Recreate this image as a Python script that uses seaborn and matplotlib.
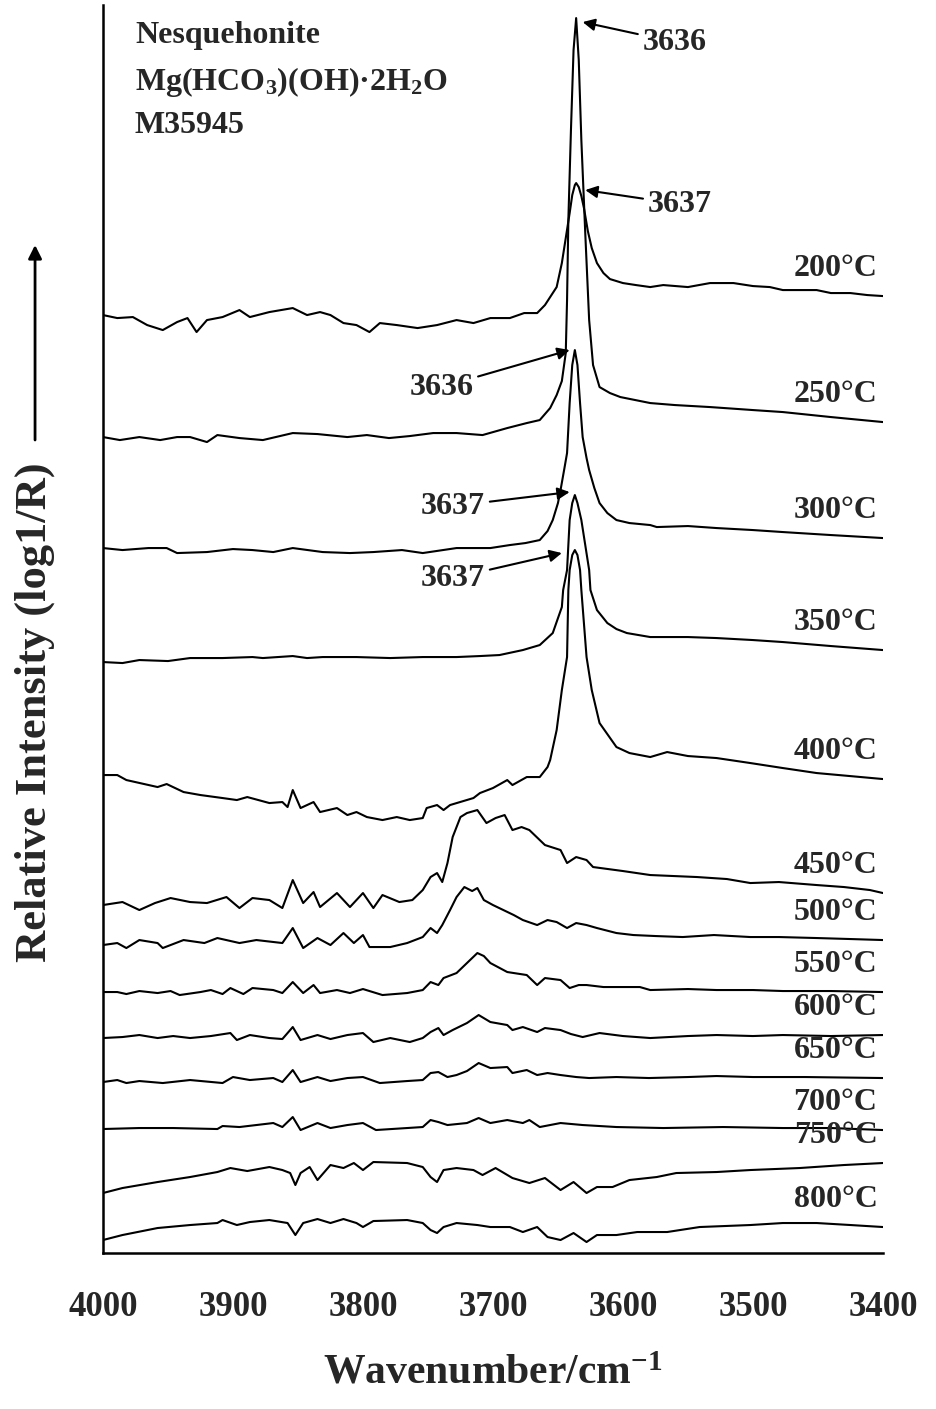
import numpy as np
import seaborn as sns
import matplotlib.pyplot as plt

sns.set_style('white')
plt.rcParams['font.family'] = ['Liberation Serif', 'DejaVu Serif']
plt.rcParams['font.weight'] = 'bold'
plt.rcParams['mathtext.fontset'] = 'custom'
plt.rcParams['mathtext.rm'] = 'Liberation Serif:bold'
plt.rcParams['mathtext.bf'] = 'Liberation Serif:bold'
plt.rcParams['mathtext.it'] = 'Liberation Serif:bold:italic'

# temperature labels, top to bottom
temps = ['200°C', '250°C', '300°C', '350°C', '400°C', '450°C', '500°C',
         '550°C', '600°C', '650°C', '700°C', '750°C', '800°C']

# (wavenumber, stacked intensity)
s200 = [(4000, 938), (3989, 935), (3977, 936), (3966, 928), (3954, 923), (3943, 931), (3935, 935),
        (3928, 921), (3920, 933), (3908, 936), (3895, 943), (3887, 936), (3872, 941), (3854, 945),
        (3843, 938), (3833, 941), (3825, 938), (3815, 930), (3805, 928), (3795, 921), (3787, 930),
        (3774, 928), (3758, 925), (3743, 928), (3728, 933), (3715, 930), (3702, 935), (3687, 935),
        (3676, 940), (3666, 940), (3660, 948), (3655, 958), (3651, 966), (3647, 990), (3644, 1015),
        (3641, 1040), (3639, 1058), (3637, 1068), (3636, 1070), (3634, 1066), (3632, 1057),
        (3630, 1045), (3627, 1022), (3624, 1005), (3620, 990), (3615, 980), (3610, 974), (3600, 970),
        (3590, 968), (3579, 966), (3569, 968), (3550, 966), (3533, 970), (3515, 970), (3500, 967),
        (3487, 966), (3477, 963), (3451, 963), (3440, 960), (3425, 960), (3412, 958), (3400, 957)]

s250 = [(4000, 816), (3987, 813), (3972, 816), (3956, 813), (3943, 816), (3933, 816), (3920, 811),
        (3912, 818), (3895, 815), (3877, 813), (3854, 820), (3835, 819), (3812, 816), (3797, 818),
        (3780, 815), (3764, 817), (3746, 820), (3728, 820), (3708, 818), (3689, 825), (3674, 830),
        (3664, 833), (3656, 845), (3651, 858), (3647, 872), (3644, 900), (3643, 953), (3642, 1033),
        (3640, 1123), (3638, 1203), (3636, 1235), (3634, 1193), (3632, 1113), (3629, 1020),
        (3626, 933), (3623, 888), (3618, 866), (3610, 860), (3602, 856), (3579, 850), (3560, 848),
        (3533, 846), (3500, 843), (3477, 841), (3440, 836), (3400, 831)]

s300 = [(4000, 705), (3985, 703), (3965, 705), (3951, 705), (3943, 700), (3920, 701), (3900, 704),
        (3885, 703), (3869, 701), (3854, 705), (3831, 701), (3810, 700), (3792, 701), (3770, 703),
        (3754, 700), (3728, 705), (3702, 705), (3687, 708), (3675, 710), (3664, 713), (3658, 722),
        (3654, 733), (3650, 750), (3648, 763), (3645, 785), (3643, 800), (3641, 850), (3639, 888),
        (3637, 903), (3635, 888), (3633, 850), (3631, 816), (3628, 795), (3626, 783), (3622, 765),
        (3618, 750), (3612, 740), (3605, 733), (3595, 730), (3579, 728), (3574, 726), (3550, 727),
        (3528, 725), (3500, 723), (3477, 721), (3440, 718), (3400, 715)]

s350 = [(4000, 591), (3985, 590), (3972, 593), (3950, 592), (3933, 595), (3908, 595), (3885, 596),
        (3877, 595), (3854, 597), (3843, 595), (3831, 596), (3805, 596), (3779, 595), (3754, 596),
        (3728, 596), (3710, 597), (3695, 598), (3677, 603), (3664, 608), (3654, 620), (3647, 646),
        (3646, 663), (3643, 683), (3641, 733), (3639, 750), (3637, 758), (3635, 750), (3632, 733),
        (3629, 708), (3626, 683), (3625, 663), (3620, 643), (3612, 630), (3605, 624), (3597, 620),
        (3579, 616), (3550, 616), (3528, 615), (3500, 613), (3477, 611), (3440, 607), (3400, 603)]

s400 = [(4000, 478), (3989, 478), (3982, 473), (3958, 466), (3951, 469), (3938, 461), (3925, 458),
        (3908, 455), (3897, 453), (3889, 456), (3872, 450), (3862, 451), (3858, 446), (3854, 463),
        (3848, 445), (3838, 451), (3833, 441), (3820, 445), (3812, 438), (3805, 441), (3797, 436),
        (3785, 433), (3774, 436), (3764, 433), (3754, 435), (3751, 445), (3743, 448), (3738, 443),
        (3733, 448), (3715, 455), (3710, 460), (3700, 465), (3689, 473), (3685, 468), (3674, 476),
        (3664, 476), (3658, 486), (3656, 493), (3651, 523), (3647, 563), (3643, 596), (3642, 663),
        (3641, 683), (3639, 698), (3637, 703), (3635, 698), (3633, 683), (3632, 663), (3628, 596),
        (3624, 563), (3618, 530), (3605, 506), (3595, 500), (3579, 496), (3566, 501), (3550, 497),
        (3528, 495), (3502, 490), (3477, 485), (3451, 480), (3400, 474)]

s450 = [(4000, 348), (3985, 351), (3972, 343), (3960, 350), (3948, 355), (3933, 351), (3920, 350),
        (3905, 356), (3895, 345), (3885, 355), (3872, 353), (3862, 345), (3854, 373), (3846, 350),
        (3838, 361), (3833, 346), (3820, 360), (3810, 346), (3800, 360), (3792, 345), (3785, 358),
        (3772, 351), (3762, 353), (3754, 363), (3748, 376), (3743, 380), (3739, 371), (3735, 390),
        (3731, 416), (3725, 436), (3720, 440), (3712, 443), (3705, 430), (3698, 435), (3691, 438),
        (3685, 423), (3678, 426), (3672, 423), (3660, 408), (3648, 403), (3643, 390), (3636, 396),
        (3628, 393), (3623, 386), (3600, 382), (3579, 378), (3543, 376), (3520, 374), (3502, 370),
        (3480, 371), (3451, 368), (3430, 366), (3410, 363), (3400, 360)]

s500 = [(4000, 308), (3989, 310), (3982, 305), (3972, 313), (3958, 310), (3954, 305), (3938, 313),
        (3922, 310), (3912, 315), (3895, 310), (3882, 313), (3862, 310), (3854, 325), (3846, 305),
        (3835, 315), (3825, 308), (3815, 320), (3807, 310), (3800, 318), (3795, 306), (3779, 306),
        (3766, 310), (3754, 316), (3748, 325), (3743, 320), (3739, 328), (3733, 343), (3728, 356),
        (3722, 366), (3716, 362), (3712, 365), (3707, 353), (3700, 348), (3692, 343), (3684, 338),
        (3677, 333), (3666, 328), (3658, 333), (3651, 331), (3643, 325), (3636, 330), (3628, 328),
        (3620, 325), (3605, 320), (3592, 318), (3575, 317), (3554, 316), (3530, 318), (3502, 316),
        (3480, 316), (3451, 315), (3425, 314), (3400, 313)]

s550 = [(4000, 261), (3989, 261), (3982, 259), (3972, 262), (3958, 260), (3948, 262), (3941, 258),
        (3925, 261), (3917, 263), (3908, 259), (3902, 265), (3892, 259), (3885, 265), (3869, 263),
        (3862, 260), (3854, 271), (3846, 260), (3838, 268), (3833, 260), (3820, 263), (3810, 260),
        (3800, 264), (3785, 258), (3766, 260), (3754, 263), (3748, 271), (3742, 268), (3738, 275),
        (3728, 280), (3720, 290), (3712, 300), (3707, 297), (3702, 290), (3689, 281), (3674, 278),
        (3666, 268), (3660, 275), (3648, 273), (3641, 265), (3634, 268), (3628, 268), (3615, 266),
        (3605, 266), (3587, 266), (3579, 263), (3550, 264), (3528, 263), (3500, 263), (3477, 262),
        (3440, 262), (3400, 261)]

s600 = [(4000, 215), (3985, 216), (3972, 218), (3958, 215), (3946, 217), (3933, 215), (3917, 217),
        (3902, 220), (3897, 213), (3887, 218), (3872, 215), (3862, 214), (3854, 226), (3848, 213),
        (3835, 218), (3825, 214), (3812, 218), (3800, 220), (3792, 211), (3779, 215), (3764, 211),
        (3754, 215), (3748, 221), (3742, 225), (3738, 218), (3731, 223), (3720, 230), (3711, 238),
        (3702, 231), (3689, 228), (3685, 223), (3677, 226), (3666, 221), (3660, 225), (3648, 223),
        (3640, 219), (3631, 216), (3618, 220), (3600, 217), (3579, 215), (3550, 217), (3528, 218),
        (3500, 217), (3477, 218), (3440, 217), (3400, 218)]

s650 = [(4000, 171), (3989, 173), (3982, 170), (3972, 172), (3954, 170), (3933, 173), (3908, 170),
        (3900, 176), (3887, 173), (3869, 175), (3862, 171), (3854, 183), (3848, 171), (3835, 176),
        (3825, 172), (3812, 175), (3800, 176), (3787, 170), (3766, 172), (3754, 173), (3748, 180),
        (3742, 181), (3735, 176), (3728, 178), (3720, 182), (3711, 190), (3702, 185), (3689, 186),
        (3685, 180), (3674, 183), (3666, 178), (3658, 180), (3648, 178), (3636, 176), (3626, 175),
        (3605, 176), (3580, 175), (3550, 176), (3528, 177), (3500, 176), (3460, 176), (3400, 175)]

s700 = [(4000, 124), (3972, 125), (3946, 125), (3912, 124), (3908, 127), (3895, 126), (3882, 128),
        (3869, 130), (3862, 126), (3854, 136), (3848, 123), (3835, 130), (3825, 125), (3812, 128),
        (3800, 130), (3790, 123), (3766, 125), (3754, 126), (3748, 133), (3742, 131), (3735, 128),
        (3720, 130), (3711, 135), (3702, 130), (3689, 133), (3677, 130), (3672, 133), (3664, 126),
        (3648, 130), (3631, 128), (3605, 126), (3569, 125), (3523, 126), (3477, 125), (3440, 125),
        (3400, 123)]

s750 = [(4000, 60), (3985, 65), (3958, 71), (3933, 76), (3912, 81), (3902, 85), (3889, 82),
        (3872, 86), (3862, 83), (3856, 80), (3852, 68), (3848, 80), (3841, 86), (3835, 73),
        (3825, 88), (3815, 85), (3807, 90), (3800, 83), (3792, 91), (3766, 90), (3754, 86),
        (3748, 76), (3743, 71), (3738, 83), (3728, 85), (3715, 83), (3708, 78), (3698, 85),
        (3685, 75), (3672, 70), (3660, 75), (3648, 63), (3638, 71), (3628, 60), (3620, 66),
        (3608, 66), (3595, 73), (3574, 76), (3559, 80), (3528, 81), (3502, 83), (3464, 85),
        (3430, 88), (3400, 90)]

s800 = [(4000, 13), (3985, 18), (3958, 25), (3933, 28), (3912, 30), (3908, 33), (3897, 28),
        (3887, 31), (3872, 33), (3858, 30), (3852, 18), (3846, 30), (3835, 34), (3825, 30),
        (3815, 34), (3805, 30), (3800, 26), (3792, 32), (3766, 33), (3754, 30), (3748, 23),
        (3743, 20), (3738, 26), (3728, 30), (3712, 28), (3702, 26), (3687, 26), (3677, 21),
        (3666, 26), (3658, 16), (3648, 13), (3638, 20), (3628, 11), (3620, 18), (3605, 18),
        (3589, 21), (3566, 21), (3541, 26), (3502, 28), (3477, 30), (3451, 30), (3425, 28),
        (3400, 26)]

spectra = [s200, s250, s300, s350, s400, s450, s500, s550, s600, s650, s700, s750, s800]

# peak labels: text, arrow tip (wavenumber, intensity), text anchor, alignment
peak_text = ['3636', '3637', '3636', '3637', '3637']
peak_tip = [(3631, 1231), (3629, 1063), (3641, 903), (3641, 761), (3647, 700)]
peak_txt = [(3585, 1211), (3581, 1049), (3715, 866), (3706, 747), (3706, 675)]
peak_ha = ['left', 'left', 'right', 'right', 'right']

fig = plt.figure(figsize=(9.37, 14.09), dpi=100)
ax = fig.add_axes([0.1099, 0.1107, 0.8324, 0.8857])

for label, pts in zip(temps, spectra):
    wn, a = zip(*pts)
    sns.lineplot(x=list(wn), y=list(a), ax=ax, color='black', linewidth=1.5,
                 estimator=None, sort=False)
    ax.annotate(label, xy=(wn[-1], a[-1]), xytext=(-4, 20), textcoords='offset points',
                ha='right', va='center', fontsize=23, fontweight='bold')

for t, tip, pos, ha in zip(peak_text, peak_tip, peak_txt, peak_ha):
    ax.annotate(t, xy=tip, xytext=pos, ha=ha, va='center', fontsize=23, fontweight='bold',
                arrowprops=dict(arrowstyle='-|>', color='black', lw=1.5,
                                mutation_scale=18, shrinkA=1, shrinkB=0))

ax.text(0.041, 0.9696, 'Nesquehonite', transform=ax.transAxes, fontsize=23, va='baseline')
ax.text(0.041, 0.9319, r'Mg(HCO$_3$)(OH)·2H$_2$O', transform=ax.transAxes, fontsize=23,
        va='baseline')
ax.text(0.041, 0.8974, 'M35945', transform=ax.transAxes, fontsize=23, va='baseline')

ax.set_xlim(4000, 3400)
ax.set_ylim(0, 1248)
ax.set_xticks(np.arange(3400, 4001, 100))
ax.set_xticks(np.arange(3400, 4001, 20), minor=True)
ax.set_yticks([])
ax.tick_params(axis='x', which='major', direction='inout', length=15, width=1.5,
               labelsize=25, pad=20, color='black')
ax.tick_params(axis='x', which='minor', direction='in', length=6, width=1.2, color='black')
sns.despine(ax=ax)
for side in ['left', 'bottom']:
    ax.spines[side].set_linewidth(1.8)
    ax.spines[side].set_color('black')

ax.set_xlabel(r'Wavenumber/cm$^{-1}$', fontsize=30, fontweight='bold', labelpad=22)
ax.set_ylabel('')

fig.text(0.0374, 0.4947, 'Relative Intensity (log1/R)', rotation=90, ha='center', va='center',
         fontsize=32, fontweight='bold')
ax.annotate('', xy=(0.0374, 1164 / 1409), xytext=(0.0374, 969 / 1409),
            xycoords='figure fraction', textcoords='figure fraction', annotation_clip=False,
            arrowprops=dict(arrowstyle='-|>', color='black', lw=2, mutation_scale=20,
                            shrinkA=0, shrinkB=0))

plt.savefig('out.png', dpi=100)
